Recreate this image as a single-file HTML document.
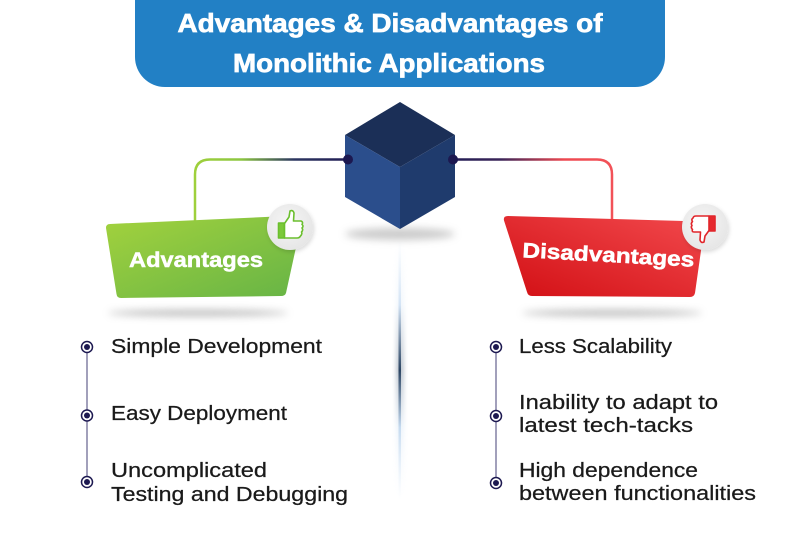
<!DOCTYPE html>
<html><head><meta charset="utf-8"><style>
html,body{margin:0;padding:0;background:#fff;}
svg{display:block;}
text{font-family:"Liberation Sans",sans-serif;}
</style></head><body>
<svg width="800" height="541" viewBox="0 0 800 541" xmlns="http://www.w3.org/2000/svg">
<defs>
  <linearGradient id="gl" gradientUnits="userSpaceOnUse" x1="348" y1="0" x2="195" y2="0">
    <stop offset="0" stop-color="#221d55"/>
    <stop offset="0.35" stop-color="#2b3560"/>
    <stop offset="0.7" stop-color="#8cc640"/>
    <stop offset="1" stop-color="#9fd03c"/>
  </linearGradient>
  <linearGradient id="gr" gradientUnits="userSpaceOnUse" x1="453" y1="0" x2="612" y2="0">
    <stop offset="0" stop-color="#221d55"/>
    <stop offset="0.3" stop-color="#3a2458"/>
    <stop offset="0.7" stop-color="#ee4850"/>
    <stop offset="1" stop-color="#f25258"/>
  </linearGradient>
  <linearGradient id="green" x1="0" y1="0" x2="1" y2="1">
    <stop offset="0" stop-color="#a3d23d"/>
    <stop offset="1" stop-color="#66b446"/>
  </linearGradient>
  <linearGradient id="red" x1="0" y1="1" x2="1" y2="0">
    <stop offset="0" stop-color="#d20f14"/>
    <stop offset="1" stop-color="#f2494d"/>
  </linearGradient>
  <linearGradient id="vl" x1="0" y1="0" x2="0" y2="1">
    <stop offset="0" stop-color="#e6f0fa" stop-opacity="0"/>
    <stop offset="0.25" stop-color="#d4e4f5"/>
    <stop offset="0.5" stop-color="#2c4563"/>
    <stop offset="0.72" stop-color="#c6dbf0"/>
    <stop offset="1" stop-color="#e6f0fa" stop-opacity="0"/>
  </linearGradient>
  <radialGradient id="circ" cx="0.45" cy="0.4" r="0.6">
    <stop offset="0" stop-color="#f6f6f6"/>
    <stop offset="1" stop-color="#e6e6e6"/>
  </radialGradient>
  <filter id="blur6" x="-50%" y="-300%" width="200%" height="700%"><feGaussianBlur stdDeviation="4"/></filter>
  <filter id="blur3" x="-50%" y="-50%" width="200%" height="200%"><feGaussianBlur stdDeviation="2"/></filter>
  <filter id="sh" x="-50%" y="-50%" width="200%" height="200%"><feDropShadow dx="1" dy="2" stdDeviation="2" flood-color="#000" flood-opacity="0.15"/></filter>
</defs>

<!-- title banner -->
<path d="M135,-5 H665 V57 A30,30 0 0 1 635,87 H165 A30,30 0 0 1 135,57 Z" fill="#2280c5"/>
<g fill="#fff" stroke="#fff" stroke-width="0.7" font-size="26" font-weight="bold" text-anchor="middle">
<text x="390" y="32" textLength="425" lengthAdjust="spacingAndGlyphs">Advantages &amp; Disadvantages of</text>
<text x="389" y="72" textLength="312" lengthAdjust="spacingAndGlyphs">Monolithic Applications</text>
</g>

<!-- vertical center line -->
<rect x="396" y="240" width="8" height="260" fill="url(#vl)" opacity="0.3" filter="url(#blur3)"/>
<rect x="398.5" y="240" width="2.5" height="260" fill="url(#vl)"/>

<!-- shadows -->
<ellipse cx="400" cy="234" rx="55" ry="6" fill="#999" opacity="0.5" filter="url(#blur6)"/>
<ellipse cx="198" cy="313" rx="90" ry="3" fill="#999" opacity="0.7" filter="url(#blur6)"/>
<ellipse cx="612" cy="313" rx="90" ry="3" fill="#999" opacity="0.7" filter="url(#blur6)"/>

<!-- connectors -->
<path d="M348,159.5 H210 Q195,159.5 195,174.5 V222" fill="none" stroke="url(#gl)" stroke-width="2.5"/>
<path d="M453,159.5 H597 Q612,159.5 612,174.5 V220" fill="none" stroke="url(#gr)" stroke-width="2.5"/>

<!-- cube -->
<polygon points="400,102 455,135 400,167 345,135" fill="#1b2f57"/>
<polygon points="345,135 400,167 400,229 345,197" fill="#2b4e8c"/>
<polygon points="400,167 455,135 455,197 400,229" fill="#1f3b6d"/>
<circle cx="348" cy="159.5" r="5" fill="#1c1850"/>
<circle cx="453" cy="159.5" r="5" fill="#1c1850"/>

<!-- green label -->
<path d="M110,224 L298,215.5 Q303,215.5 302,220 L286,293 Q285,296 281,296 L121,298 Q117,298 116.5,294 L106,228 Q106,224 110,224 Z" fill="url(#green)"/>
<text x="196" y="267" font-size="21" font-weight="bold" fill="#fff" stroke="#fff" stroke-width="0.5" text-anchor="middle" textLength="134" lengthAdjust="spacingAndGlyphs">Advantages</text>

<!-- thumbs up -->
<circle cx="290" cy="227" r="23" fill="url(#circ)" filter="url(#sh)"/>
<g fill="#fff" stroke="#6bbf2e" stroke-width="1.6" stroke-linejoin="round">
  <rect x="278.5" y="223" width="6" height="15" fill="#7bc93a"/>
  <path d="M284.5,223.5 L289,217 L290,211 Q293,209.5 294,213 L293.5,221 L301,221 Q303.5,222 302,224.5 Q304,226 302,228 Q303.5,230 301.5,232 Q302.5,234 300.5,236 Q299.5,238 297,238 L284.5,238 Z"/>
</g>

<!-- red label -->
<path d="M508,216 L701,221.5 Q705,222 704.5,226 L695,293 Q694,297 690,297 L532,296 Q528,296 527,292 L504,220.5 Q503,216 508,216 Z" fill="url(#red)"/>
<text x="608" y="262" font-size="21" font-weight="bold" fill="#fff" stroke="#fff" stroke-width="0.5" text-anchor="middle" textLength="172" lengthAdjust="spacingAndGlyphs" transform="rotate(3.2 608 262)">Disadvantages</text>

<!-- thumbs down -->
<circle cx="705" cy="227" r="23" fill="url(#circ)" filter="url(#sh)"/>
<g fill="#fff" stroke="#e1262b" stroke-width="1.6" stroke-linejoin="round">
  <rect x="709" y="216" width="6" height="15" fill="#e6282e"/>
  <path d="M709,216 L696,216 Q693.5,216 693,218 Q691,219.5 692.5,221.5 Q690.5,223.5 692,225.5 Q690.5,227.5 692.5,229.5 Q691.5,232 694,232 L700.5,232 L700,240 Q701,243.5 704,242 L705,236 L709,230.5 Z"/>
</g>

<!-- left bullets -->
<line x1="87" y1="347" x2="87" y2="482" stroke="#8b89aa" stroke-width="1.6"/>
<g fill="#fff" stroke="#1c1850" stroke-width="1.5">
  <circle cx="87" cy="347" r="5.5"/><circle cx="87" cy="415.5" r="5.5"/><circle cx="87" cy="482" r="5.5"/>
</g>
<g fill="#1c1850">
  <circle cx="87" cy="347" r="3"/><circle cx="87" cy="415.5" r="3"/><circle cx="87" cy="482" r="3"/>
</g>
<g font-size="20" fill="#1a1a1a" stroke="#1a1a1a" stroke-width="0.25">
  <text x="111" y="353" textLength="211" lengthAdjust="spacingAndGlyphs">Simple Development</text>
  <text x="111" y="420" textLength="176" lengthAdjust="spacingAndGlyphs">Easy Deployment</text>
  <text x="111" y="477" textLength="156" lengthAdjust="spacingAndGlyphs">Uncomplicated</text>
  <text x="111" y="501" textLength="237" lengthAdjust="spacingAndGlyphs">Testing and Debugging</text>
</g>

<!-- right bullets -->
<line x1="496" y1="347" x2="496" y2="483" stroke="#8b89aa" stroke-width="1.6"/>
<g fill="#fff" stroke="#1c1850" stroke-width="1.5">
  <circle cx="496" cy="347" r="5.5"/><circle cx="496" cy="416" r="5.5"/><circle cx="496" cy="483" r="5.5"/>
</g>
<g fill="#1c1850">
  <circle cx="496" cy="347" r="3"/><circle cx="496" cy="416" r="3"/><circle cx="496" cy="483" r="3"/>
</g>
<g font-size="20" fill="#1a1a1a" stroke="#1a1a1a" stroke-width="0.25">
  <text x="519" y="353" textLength="153" lengthAdjust="spacingAndGlyphs">Less Scalability</text>
  <text x="519" y="409" textLength="199" lengthAdjust="spacingAndGlyphs">Inability to adapt to</text>
  <text x="519" y="432" textLength="174" lengthAdjust="spacingAndGlyphs">latest tech-tacks</text>
  <text x="519" y="477" textLength="179" lengthAdjust="spacingAndGlyphs">High dependence</text>
  <text x="519" y="500" textLength="237" lengthAdjust="spacingAndGlyphs">between functionalities</text>
</g>
</svg>
</body></html>
